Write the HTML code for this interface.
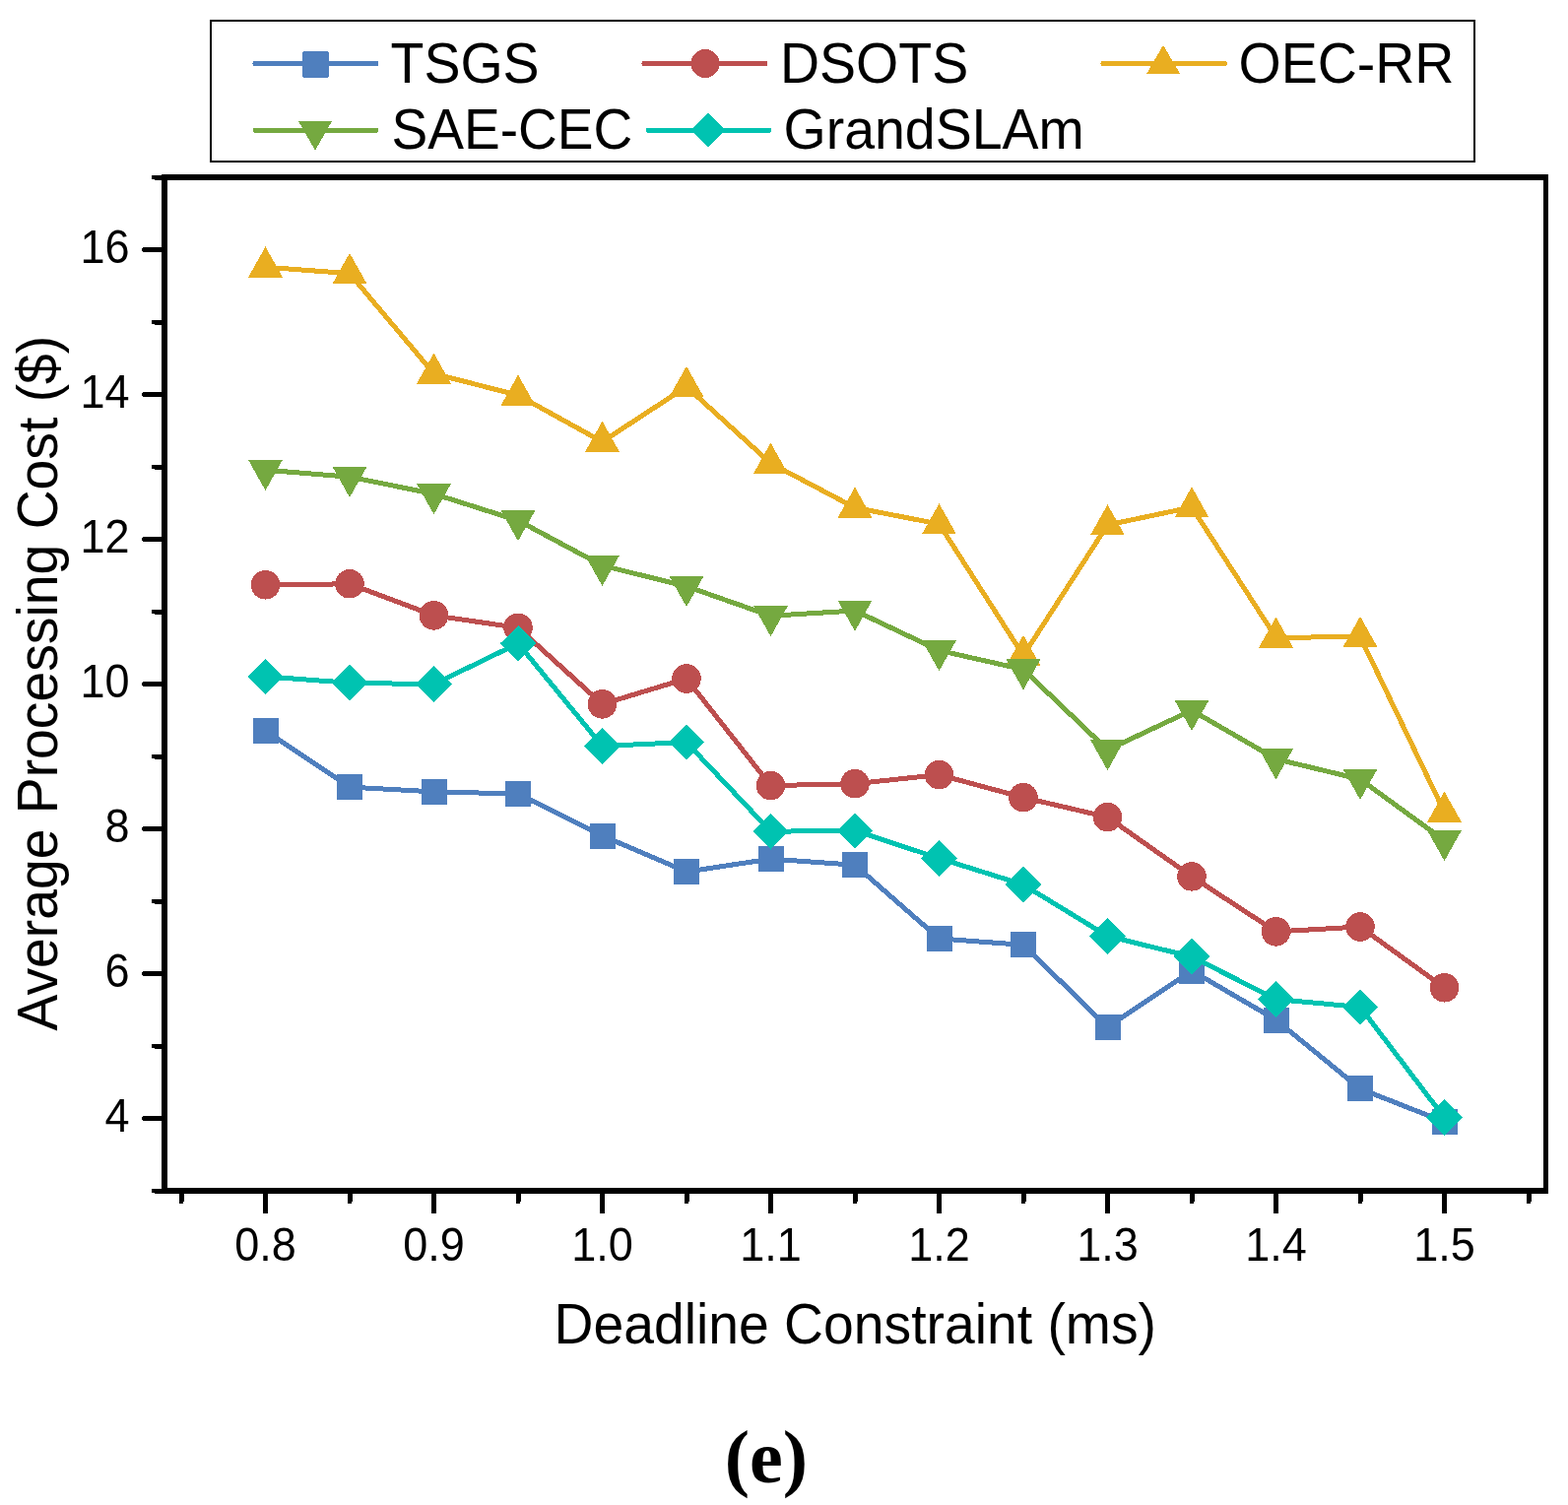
<!DOCTYPE html>
<html><head><meta charset="utf-8"><title>Average Processing Cost vs Deadline Constraint</title>
<style>
html,body{margin:0;padding:0;background:#fff;}
body{width:1592px;height:1528px;overflow:hidden;}
svg{display:block;}
text{font-family:"Liberation Sans",Arial,sans-serif;fill:#000;}
</style></head><body>
<svg shape-rendering="crispEdges" width="1592" height="1528" viewBox="0 0 1592 1528">
<rect x="0" y="0" width="1592" height="1528" fill="#fff"/>
<rect x="214" y="21" width="1283" height="143" fill="#fff" stroke="#000" stroke-width="2"/>
<line x1="259" y1="64.5" x2="382" y2="64.5" stroke="#4F7FBE" stroke-width="5" stroke-linecap="round"/>
<g fill="#4F7FBE"><rect x="307" y="51.9" width="27" height="27" rx="2.5"/></g>
<line x1="654" y1="64.5" x2="777" y2="64.5" stroke="#BD4F4F" stroke-width="5" stroke-linecap="round"/>
<g fill="#BD4F4F"><circle cx="716" cy="64.5" r="14.5"/></g>
<line x1="1120" y1="64.5" x2="1243.5" y2="64.5" stroke="#E9AE21" stroke-width="5" stroke-linecap="round"/>
<g fill="#E9AE21"><polygon points="1181,45.8 1198.4,75.4 1163.9,75.4"/></g>
<line x1="259" y1="132.4" x2="382" y2="132.4" stroke="#75A940" stroke-width="5" stroke-linecap="round"/>
<g fill="#75A940"><polygon points="303,123.1 337,123.1 320,152.8"/></g>
<line x1="658" y1="132.4" x2="781" y2="132.4" stroke="#00C3B1" stroke-width="5" stroke-linecap="round"/>
<g fill="#00C3B1"><polygon points="719.1,114.9 736.6,132.4 719.1,149.9 701.6,132.4"/></g>
<text transform="translate(396.5,84) scale(1,1.05)" font-size="55.5">TSGS</text>
<text transform="translate(792,84) scale(1,1.05)" font-size="55.5">DSOTS</text>
<text transform="translate(1257.5,84) scale(1,1.05)" font-size="55.5">OEC-RR</text>
<text transform="translate(397.5,150.5) scale(0.992,1.05)" font-size="55.5">SAE-CEC</text>
<text transform="translate(795.5,150.5) scale(1,1.05)" font-size="55.5">GrandSLAm</text>
<path d="M166.9,1135.5H146.5 M166.9,988.5H146.5 M166.9,841.5H146.5 M166.9,694.5H146.5 M166.9,547.5H146.5 M166.9,400.5H146.5 M166.9,253.5H146.5 M166.9,1209H156.5 M166.9,1062H156.5 M166.9,915H156.5 M166.9,768H156.5 M166.9,621H156.5 M166.9,474H156.5 M166.9,327H156.5 M166.9,180H156.5 M269.5,1209.1V1230 M440.5,1209.1V1230 M611.5,1209.1V1230 M782.5,1209.1V1230 M953.5,1209.1V1230 M1124.5,1209.1V1230 M1295.5,1209.1V1230 M1466.5,1209.1V1230 M184,1209.1V1219.5 M355,1209.1V1219.5 M526,1209.1V1219.5 M697,1209.1V1219.5 M868,1209.1V1219.5 M1039,1209.1V1219.5 M1210,1209.1V1219.5 M1381,1209.1V1219.5 M1552,1209.1V1219.5" stroke="#000" stroke-width="5" stroke-linecap="round" fill="none"/>
<polyline points="269.5,742.1 355,799.1 440.5,803.9 526,806 611.5,848.5 697,885.1 782.5,872.1 868,878.2 953.5,952.9 1039,959.4 1124.5,1042.8 1210,985.5 1295.5,1035.5 1381,1105.4 1466.5,1139" fill="none" stroke="#4F7FBE" stroke-width="5" stroke-linejoin="miter" stroke-miterlimit="10"/>
<g fill="#4F7FBE"><rect x="256.5" y="729.1" width="26" height="26"/><rect x="342" y="786.1" width="26" height="26"/><rect x="427.5" y="790.9" width="26" height="26"/><rect x="513" y="793" width="26" height="26"/><rect x="598.5" y="835.5" width="26" height="26"/><rect x="684" y="872.1" width="26" height="26"/><rect x="769.5" y="859.1" width="26" height="26"/><rect x="855" y="865.2" width="26" height="26"/><rect x="940.5" y="939.9" width="26" height="26"/><rect x="1026" y="946.4" width="26" height="26"/><rect x="1111.5" y="1029.8" width="26" height="26"/><rect x="1197" y="972.5" width="26" height="26"/><rect x="1282.5" y="1022.5" width="26" height="26"/><rect x="1368" y="1092.4" width="26" height="26"/><rect x="1453.5" y="1126" width="26" height="26"/></g>
<polyline points="269.5,593.8 355,592.8 440.5,624.9 526,637.3 611.5,714.9 697,689 782.5,797.6 868,795.7 953.5,786.6 1039,809.7 1124.5,829.6 1210,889.9 1295.5,945.9 1381,941 1466.5,1002.8" fill="none" stroke="#BD4F4F" stroke-width="5" stroke-linejoin="miter" stroke-miterlimit="10"/>
<g fill="#BD4F4F"><circle cx="269.5" cy="593.8" r="14.75"/><circle cx="355" cy="592.8" r="14.75"/><circle cx="440.5" cy="624.9" r="14.75"/><circle cx="526" cy="637.3" r="14.75"/><circle cx="611.5" cy="714.9" r="14.75"/><circle cx="697" cy="689" r="14.75"/><circle cx="782.5" cy="797.6" r="14.75"/><circle cx="868" cy="795.7" r="14.75"/><circle cx="953.5" cy="786.6" r="14.75"/><circle cx="1039" cy="809.7" r="14.75"/><circle cx="1124.5" cy="829.6" r="14.75"/><circle cx="1210" cy="889.9" r="14.75"/><circle cx="1295.5" cy="945.9" r="14.75"/><circle cx="1381" cy="941" r="14.75"/><circle cx="1466.5" cy="1002.8" r="14.75"/></g>
<polyline points="269.5,271.2 355,277.7 440.5,379.3 526,401.3 611.5,448.5 697,392.6 782.5,470.4 868,515.4 953.5,532 1039,665.5 1124.5,533 1210,515 1295.5,647.3 1381,646.6 1466.5,824.4" fill="none" stroke="#E9AE21" stroke-width="5" stroke-linejoin="miter" stroke-miterlimit="10"/>
<g fill="#E9AE21"><polygon points="269.5,250.4 287,281.6 252,281.6"/><polygon points="355,256.9 372.5,288.1 337.5,288.1"/><polygon points="440.5,358.5 458,389.7 423,389.7"/><polygon points="526,380.5 543.5,411.7 508.5,411.7"/><polygon points="611.5,427.7 629,458.9 594,458.9"/><polygon points="697,371.8 714.5,403 679.5,403"/><polygon points="782.5,449.6 800,480.8 765,480.8"/><polygon points="868,494.6 885.5,525.8 850.5,525.8"/><polygon points="953.5,511.2 971,542.4 936,542.4"/><polygon points="1039,644.7 1056.5,675.9 1021.5,675.9"/><polygon points="1124.5,512.2 1142,543.4 1107,543.4"/><polygon points="1210,494.2 1227.5,525.4 1192.5,525.4"/><polygon points="1295.5,626.5 1313,657.7 1278,657.7"/><polygon points="1381,625.8 1398.5,657 1363.5,657"/><polygon points="1466.5,803.6 1484,834.8 1449,834.8"/></g>
<polyline points="269.5,477.2 355,484.2 440.5,501.4 526,528.5 611.5,574.2 697,595.3 782.5,625.3 868,620 953.5,660.4 1039,679.7 1124.5,761.3 1210,721.2 1295.5,770.6 1381,791.2 1466.5,853.3" fill="none" stroke="#75A940" stroke-width="5" stroke-linejoin="miter" stroke-miterlimit="10"/>
<g fill="#75A940"><polygon points="269.5,498 287,466.8 252,466.8"/><polygon points="355,505 372.5,473.8 337.5,473.8"/><polygon points="440.5,522.2 458,491 423,491"/><polygon points="526,549.3 543.5,518.1 508.5,518.1"/><polygon points="611.5,595 629,563.8 594,563.8"/><polygon points="697,616.1 714.5,584.9 679.5,584.9"/><polygon points="782.5,646.1 800,614.9 765,614.9"/><polygon points="868,640.8 885.5,609.6 850.5,609.6"/><polygon points="953.5,681.2 971,650 936,650"/><polygon points="1039,700.5 1056.5,669.3 1021.5,669.3"/><polygon points="1124.5,782.1 1142,750.9 1107,750.9"/><polygon points="1210,742 1227.5,710.8 1192.5,710.8"/><polygon points="1295.5,791.4 1313,760.2 1278,760.2"/><polygon points="1381,812 1398.5,780.8 1363.5,780.8"/><polygon points="1466.5,874.1 1484,842.9 1449,842.9"/></g>
<polyline points="269.5,686.9 355,693.3 440.5,694.7 526,653.3 611.5,757.4 697,753.6 782.5,844.2 868,843.4 953.5,871.4 1039,898.2 1124.5,950.4 1210,971.3 1295.5,1014.5 1381,1022.5 1466.5,1134.7" fill="none" stroke="#00C3B1" stroke-width="5" stroke-linejoin="miter" stroke-miterlimit="10"/>
<g fill="#00C3B1"><polygon points="269.5,668.6 287.8,686.9 269.5,705.2 251.2,686.9"/><polygon points="355,675 373.3,693.3 355,711.6 336.7,693.3"/><polygon points="440.5,676.4 458.8,694.7 440.5,713 422.2,694.7"/><polygon points="526,635 544.3,653.3 526,671.6 507.7,653.3"/><polygon points="611.5,739.1 629.8,757.4 611.5,775.7 593.2,757.4"/><polygon points="697,735.3 715.3,753.6 697,771.9 678.7,753.6"/><polygon points="782.5,825.9 800.8,844.2 782.5,862.5 764.2,844.2"/><polygon points="868,825.1 886.3,843.4 868,861.7 849.7,843.4"/><polygon points="953.5,853.1 971.8,871.4 953.5,889.7 935.2,871.4"/><polygon points="1039,879.9 1057.3,898.2 1039,916.5 1020.7,898.2"/><polygon points="1124.5,932.1 1142.8,950.4 1124.5,968.7 1106.2,950.4"/><polygon points="1210,953 1228.3,971.3 1210,989.6 1191.7,971.3"/><polygon points="1295.5,996.2 1313.8,1014.5 1295.5,1032.8 1277.2,1014.5"/><polygon points="1381,1004.2 1399.3,1022.5 1381,1040.8 1362.7,1022.5"/><polygon points="1466.5,1116.4 1484.8,1134.7 1466.5,1153 1448.2,1134.7"/></g>
<rect x="166.9" y="180" width="1402.6" height="1029.1" fill="none" stroke="#000" stroke-width="5.6" stroke-linejoin="miter"/>
<text transform="translate(131.5,1149.3) scale(1,1.06)" font-size="45" text-anchor="end">4</text>
<text transform="translate(131.5,1002.3) scale(1,1.06)" font-size="45" text-anchor="end">6</text>
<text transform="translate(131.5,855.3) scale(1,1.06)" font-size="45" text-anchor="end">8</text>
<text transform="translate(131.5,708.3) scale(1,1.06)" font-size="45" text-anchor="end">10</text>
<text transform="translate(131.5,561.3) scale(1,1.06)" font-size="45" text-anchor="end">12</text>
<text transform="translate(131.5,414.3) scale(1,1.06)" font-size="45" text-anchor="end">14</text>
<text transform="translate(131.5,267.3) scale(1,1.06)" font-size="45" text-anchor="end">16</text>
<text transform="translate(269.5,1280.2) scale(1,1.06)" font-size="45" text-anchor="middle">0.8</text>
<text transform="translate(440.5,1280.2) scale(1,1.06)" font-size="45" text-anchor="middle">0.9</text>
<text transform="translate(611.5,1280.2) scale(1,1.06)" font-size="45" text-anchor="middle">1.0</text>
<text transform="translate(782.5,1280.2) scale(1,1.06)" font-size="45" text-anchor="middle">1.1</text>
<text transform="translate(953.5,1280.2) scale(1,1.06)" font-size="45" text-anchor="middle">1.2</text>
<text transform="translate(1124.5,1280.2) scale(1,1.06)" font-size="45" text-anchor="middle">1.3</text>
<text transform="translate(1295.5,1280.2) scale(1,1.06)" font-size="45" text-anchor="middle">1.4</text>
<text transform="translate(1466.5,1280.2) scale(1,1.06)" font-size="45" text-anchor="middle">1.5</text>
<text x="0" y="0" font-size="55.3" transform="translate(58,1046.5) rotate(-90) scale(1,1.05)">Average Processing Cost ($)</text>
<text transform="translate(562.5,1364) scale(1,1.05)" font-size="55.3">Deadline Constraint (ms)</text>
<text x="735.8" y="1505" font-size="76" font-weight="700" style="font-family:'Liberation Serif','Times New Roman',serif">(e)</text>
</svg></body></html>
